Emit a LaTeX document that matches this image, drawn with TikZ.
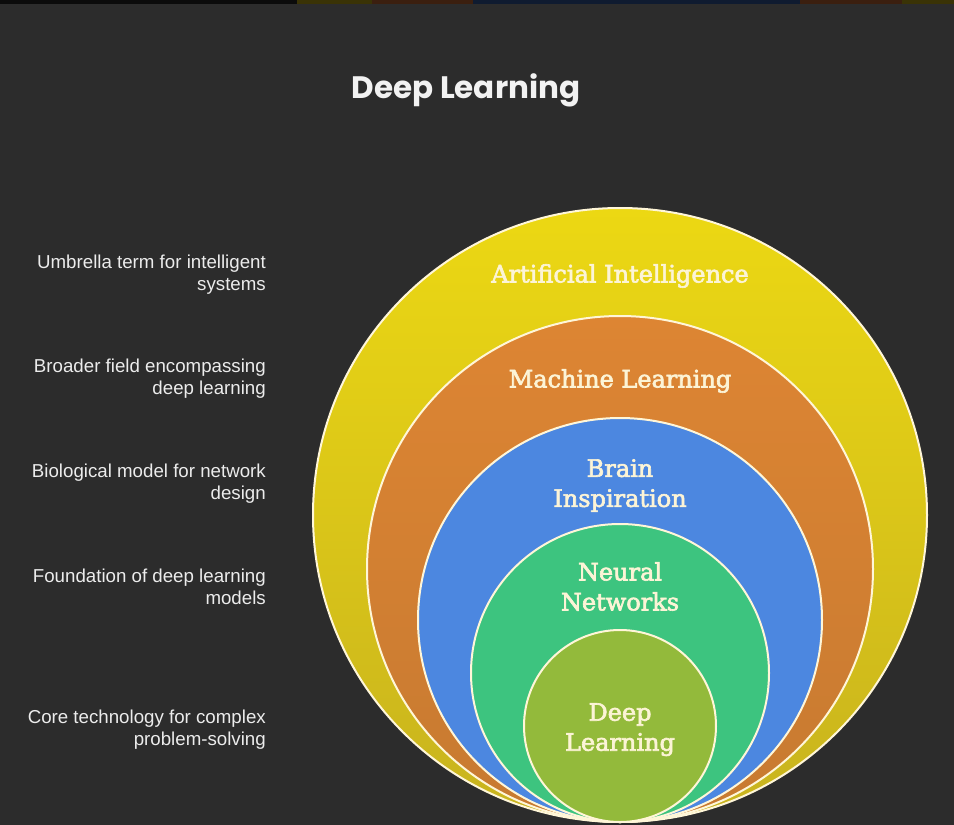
\documentclass[tikz,border=0pt]{standalone}
\usepackage{fontspec}
\newfontfamily\ringfont[FakeBold=2.6]{DejaVu Serif}
\newfontfamily\notefont{Liberation Sans}
\newfontfamily\headfont{Poppins}
\definecolor{bgdark}{HTML}{2C2C2C}
\definecolor{ringline}{HTML}{FFF6D8}
\definecolor{ringtxt}{HTML}{FCF4D6}
\definecolor{notetxt}{HTML}{ECECEC}
\definecolor{aitop}{HTML}{ECD813}
\definecolor{aibot}{HTML}{C8B31E}
\definecolor{mltop}{HTML}{DD8533}
\definecolor{mlbot}{HTML}{C77A31}
\definecolor{brainfill}{HTML}{4C87E0}
\definecolor{nnfill}{HTML}{3DC47F}
\definecolor{dlfill}{HTML}{93BA3B}
\definecolor{stripblack}{HTML}{0B0B0B}
\definecolor{stripolive}{HTML}{3A3306}
\definecolor{stripbrown}{HTML}{3B1F0F}
\definecolor{stripnavy}{HTML}{0F1B30}

\begin{document}
\begin{tikzpicture}[x=1pt, y=-1pt,
  ring/.style={circle, draw=ringline, line width=2pt, inner sep=0pt, minimum size=#1},
  ringtext/.style={anchor=north, align=center, inner sep=0pt, text=ringtxt,
    font=\ringfont\fontsize{24}{30}\selectfont},
  note/.style={anchor=north east, align=right, inner sep=0pt, text=notetxt,
    font=\notefont\fontsize{18.7}{22}\selectfont}]
  \fill[bgdark] (0,0) rectangle (954,825);
  \useasboundingbox (0,0) rectangle (954,825);
  \fill[stripblack] (0,0) rectangle (297,4);
  \fill[stripolive] (297,0) rectangle (372,4);
  \fill[stripbrown] (372,0) rectangle (473,4);
  \fill[stripnavy] (473,0) rectangle (800,4);
  \fill[stripbrown] (800,0) rectangle (902,4);
  \fill[stripolive] (902,0) rectangle (954,4);

  \node[font=\headfont\bfseries\fontsize{31}{36}\selectfont, text=white!95!black, anchor=base] (title) at (466,98) {Deep Learning};

  \node[ring=614, top color=aitop, bottom color=aibot] (ai) at (620,515) {};
  \node[ring=506, top color=mltop, bottom color=mlbot] (ml) at (620,569) {};
  \node[ring=404, fill=brainfill] (brain) at (620,620) {};
  \node[ring=298, fill=nnfill] (nn) at (620,673) {};
  \node[ring=192, fill=dlfill] (dl) at (620,726) {};

  \node[ringtext] (ailabel) at (620,264) {Artificial Intelligence};
  \node[ringtext] (mllabel) at (620,369) {Machine Learning};
  \node[ringtext] (brainlabel) at (620,459) {Brain\\Inspiration};
  \node[ringtext] (nnlabel) at (620,562) {Neural\\Networks};
  \node[ringtext] (dllabel) at (620,703) {Deep\\Learning};

  \node[note] (ainote) at (266,254.5) {Umbrella term for intelligent\\systems};
  \node[note] (mlnote) at (266,358.5) {Broader field encompassing\\deep learning};
  \node[note] (brainnote) at (266,463.5) {Biological model for network\\design};
  \node[note] (nnnote) at (266,568.5) {Foundation of deep learning\\models};
  \node[note] (dlnote) at (266,709.5) {Core technology for complex\\problem-solving};
\end{tikzpicture}
\end{document}
